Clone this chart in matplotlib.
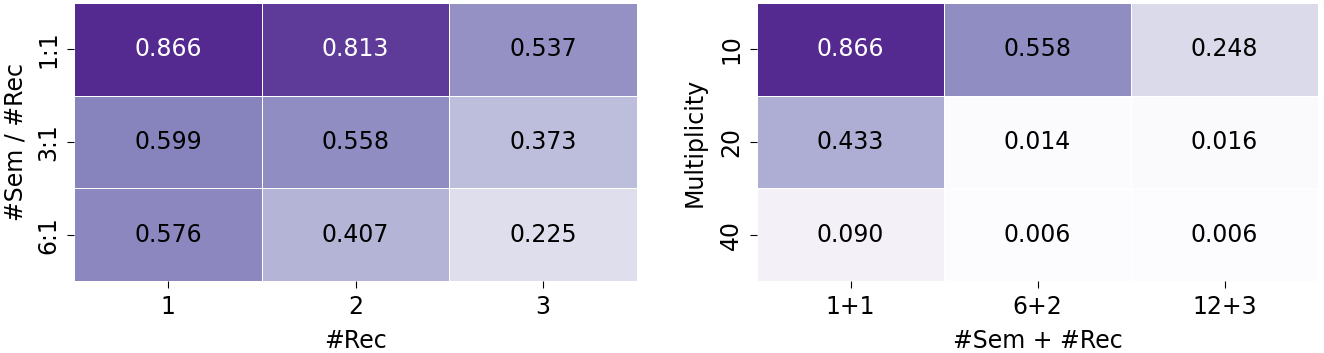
import matplotlib
matplotlib.use("Agg")
import matplotlib.pyplot as plt
import numpy as np
import seaborn as sns

# left: ratio of #Sem/#Rec vs number of recurrent blocks
rec_labels = ["1", "2", "3"]
ratio_labels = ["1:1", "3:1", "6:1"]
ratio_vals = np.array([
    [0.866, 0.813, 0.537],
    [0.599, 0.558, 0.373],
    [0.576, 0.407, 0.225],
])

# right: multiplicity vs #Sem + #Rec
combo_labels = ["1+1", "6+2", "12+3"]
mult_labels = ["10", "20", "40"]
mult_vals = np.array([
    [0.866, 0.558, 0.248],
    [0.433, 0.014, 0.016],
    [0.090, 0.006, 0.006],
])

FS = 17

fig = plt.figure(figsize=(13.24, 3.53), dpi=100)
ax1 = fig.add_axes([74 / 1324, 72 / 353, 563 / 1324, 278 / 353])
ax2 = fig.add_axes([757 / 1324, 72 / 353, 561 / 1324, 278 / 353])

for ax, vals, xl, yl, xname, yname, ypad in [
    (ax1, ratio_vals, rec_labels, ratio_labels, "#Rec", "#Sem / #Rec", 6),
    (ax2, mult_vals, combo_labels, mult_labels, "#Sem + #Rec", "Multiplicity", 9),
]:
    sns.heatmap(vals, ax=ax, cmap="Purples", vmin=0, vmax=1, annot=False,
                linewidths=0.5, linecolor="white", cbar=False,
                xticklabels=xl, yticklabels=yl)
    # annotations: white only on the darkest cells
    for i in range(vals.shape[0]):
        for j in range(vals.shape[1]):
            v = vals[i, j]
            ax.text(j + 0.5, i + 0.5, "{:.3f}".format(v), ha="center", va="center",
                    fontsize=FS, color="white" if v > 0.7 else "black")
    ax.set_xlabel(xname, fontsize=FS, labelpad=7)
    ax.set_ylabel(yname, fontsize=FS, labelpad=ypad)
    ax.tick_params(labelsize=FS, length=5, pad=5, colors="black")
    ax.set_yticklabels(yl, rotation=90, va="center")

fig.savefig("out.png", dpi=100)
